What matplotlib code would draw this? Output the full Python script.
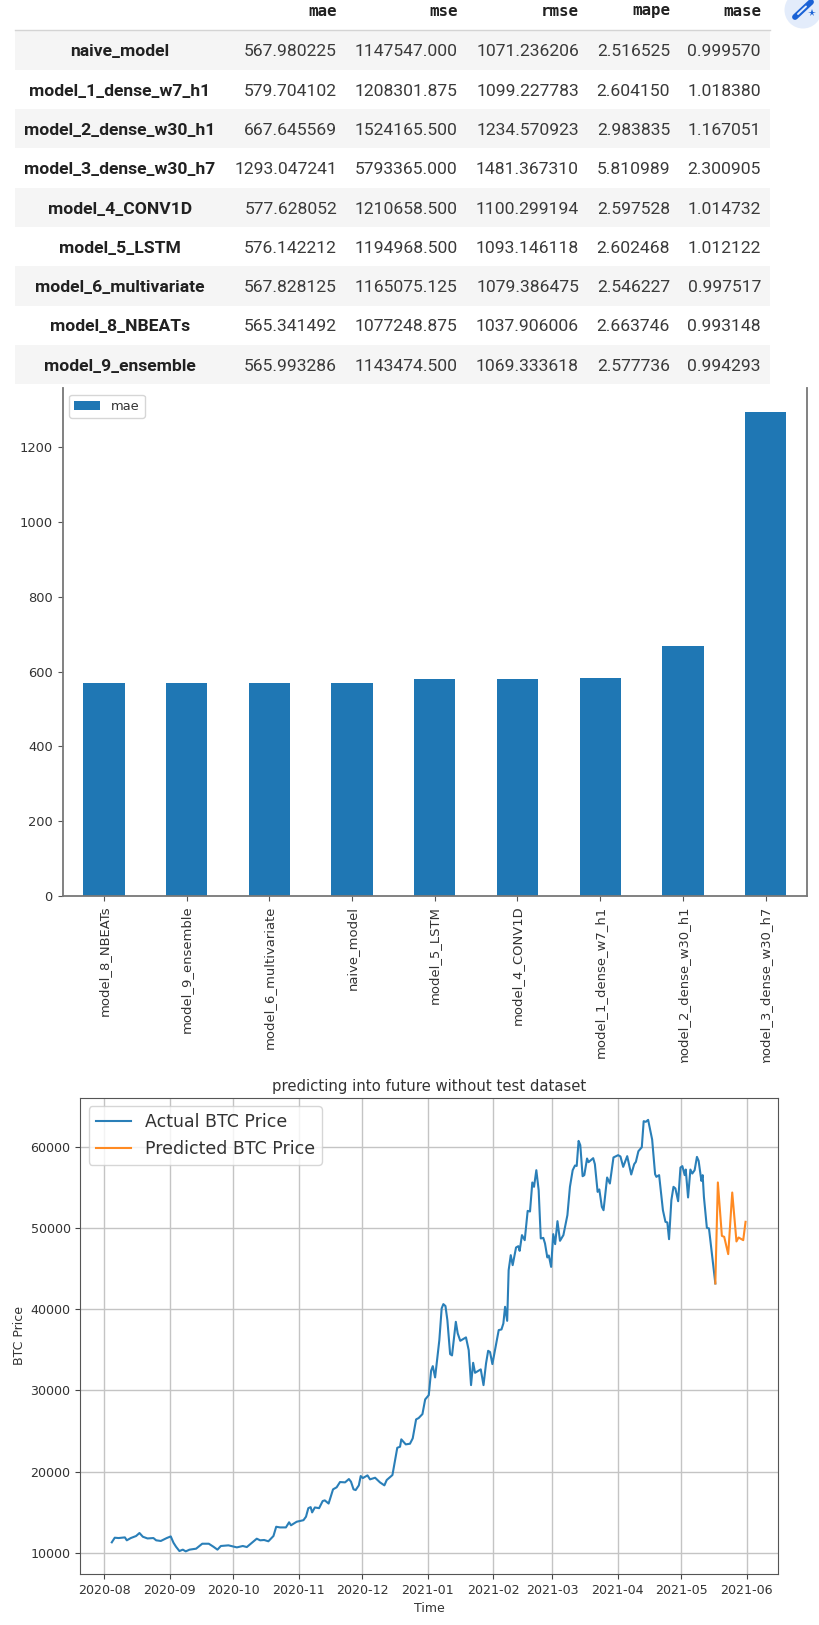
import matplotlib
matplotlib.use("Agg")
import matplotlib.pyplot as plt
import matplotlib.dates as mdates
import pandas as pd
from matplotlib.patches import Rectangle, Circle

# ---------- data ----------
table_columns = ["mae", "mse", "rmse", "mape", "mase"]
table_models = ["naive_model", "model_1_dense_w7_h1", "model_2_dense_w30_h1", "model_3_dense_w30_h7",
                "model_4_CONV1D", "model_5_LSTM", "model_6_multivariate", "model_8_NBEATs", "model_9_ensemble"]
mae_text = ["567.980225", "579.704102", "667.645569", "1293.047241", "577.628052",
            "576.142212", "567.828125", "565.341492", "565.993286"]
mse_text = ["1147547.000", "1208301.875", "1524165.500", "5793365.000", "1210658.500",
            "1194968.500", "1165075.125", "1077248.875", "1143474.500"]
rmse_text = ["1071.236206", "1099.227783", "1234.570923", "1481.367310", "1100.299194",
             "1093.146118", "1079.386475", "1037.906006", "1069.333618"]
mape_text = ["2.516525", "2.604150", "2.983835", "5.810989", "2.597528",
             "2.602468", "2.546227", "2.663746", "2.577736"]
mase_text = ["0.999570", "1.018380", "1.167051", "2.300905", "1.014732",
             "1.012122", "0.997517", "0.993148", "0.994293"]

bar_models = ["model_8_NBEATs", "model_9_ensemble", "model_6_multivariate", "naive_model", "model_5_LSTM",
              "model_4_CONV1D", "model_1_dense_w7_h1", "model_2_dense_w30_h1", "model_3_dense_w30_h7"]
bar_mae = [568.5, 568.5, 568.5, 568.5, 579, 579, 583, 667.6, 1293.0]

start_date = "2020-08-01"
actual_days = [3.6, 5, 6.8, 8.4, 9.8, 10.7, 12.6, 15.1, 16.7, 18.3, 20.5, 23.3, 24.6, 26.8, 29.6, 31.5, 32.8, 34,
               35.6, 37.2, 38.6, 40.4, 43.5, 46.4, 49.5, 51.7, 53.6, 55.2, 58.8, 62.8, 65.6, 67.5, 70.3, 72.2,
               73.8, 75.7, 77.7, 80.1, 81.4, 83.2, 86, 87.5, 88.4, 91.1, 94.3, 95.5, 96.6, 97.7, 98.4, 99.7,
               101.7, 103.4, 104.4, 106.2, 108.3, 110, 111.6, 114, 115.8, 116.8, 118, 119, 120.5, 121.4, 122.4,
               124.6, 125.8, 128.2, 130.5, 132.6, 133.7, 136.4, 138.7, 140, 140.6, 142.7, 144.7, 146, 147.6,
               148.8, 150.6, 151.9, 153.6, 154.7, 155.5, 156.6, 158.6, 159.7, 160.5, 161.5, 162.4, 163.7, 164.6,
               166.4, 167.3, 168.5, 171.2, 172.5, 173.6, 174.6, 175.5, 178.2, 179.5, 180.7, 181.7, 182.6, 183.7,
               185.1, 186.7, 188, 188.9, 189.7, 190.7, 191.4, 192.4, 193.3, 194.9, 196, 196.6, 197.7, 199, 200.4,
               201.5, 202.6, 203.4, 204.5, 205.6, 206.6, 207.8, 208.6, 209.7, 210.4, 211.5, 212.5, 213.4, 214.5,
               215.7, 217.3, 219.2, 220.4, 221.7, 222.8, 223.6, 224.5, 225.3, 226.4, 227.2, 228.5, 229.2, 231.4,
               232.2, 233.5, 234.3, 235.5, 236.3, 238, 239.3, 241, 243.2, 244.3, 245.6, 247.5, 249.4, 250.8,
               251.6, 252.8, 254.4, 255.3, 256.3, 257.4, 259.3, 260.7, 261.3, 262.6, 264.4, 265.6, 266.5, 267.3,
               268.4, 269.4, 270.3, 271.6, 272.7, 273.6, 274.7, 275.2, 276.3, 277.4, 278.3, 279.4, 280.5, 281.3,
               282.6, 283.2, 283.8, 285.2, 286.2, 289.2]
actual_price = [11293, 11860, 11820, 11860, 11900, 11540, 11820, 12070, 12440, 11980, 11770, 11820, 11540, 11460,
                11820, 12020, 11240, 10750, 10220, 10390, 10180, 10390, 10510, 11120, 11120, 10750, 10390, 10840,
                10920, 10670, 10840, 10710, 11330, 11740, 11540, 11580, 11420, 12070, 13210, 13130, 13130, 13760,
                13390, 13830, 14020, 14450, 15500, 15630, 14980, 15590, 15500, 16380, 16460, 16070, 17820, 18070,
                18720, 18680, 19090, 18760, 17820, 17730, 18310, 19460, 19210, 19540, 19050, 19250, 18680, 18310,
                18970, 19580, 22940, 23070, 23980, 23360, 23440, 24100, 26440, 26600, 27090, 28900, 29430, 32430,
                33000, 31610, 36210, 40110, 40640, 40400, 38670, 34480, 34320, 38460, 37030, 36120, 36540, 34970,
                30660, 33410, 32180, 32600, 30660, 33340, 34890, 34730, 33250, 35180, 37440, 37520, 38260, 40310,
                38580, 44830, 46670, 45440, 47620, 47780, 47200, 49140, 48520, 52130, 52050, 55630, 55090, 57140,
                54680, 48730, 48800, 48110, 46390, 46630, 45230, 49260, 48030, 50860, 48440, 49140, 51600, 55090,
                57140, 57720, 57660, 60750, 60220, 56400, 56530, 58580, 58130, 58620, 57880, 54470, 54770, 52620,
                52210, 56240, 55500, 58710, 58990, 58830, 57550, 58870, 56610, 57880, 58170, 59480, 59970, 63180,
                63100, 63340, 60920, 56650, 56320, 56530, 52210, 50780, 50700, 48640, 53450, 55090, 54890, 53320,
                57470, 57640, 56530, 57220, 53780, 57220, 56730, 57140, 58780, 58290, 55820, 56530, 53850, 50040,
                49960, 43190]
pred_days = [289.2, 290.4, 292.3, 293.4, 295.3, 297.2, 299.2, 300.2, 302.4, 303.5]
pred_price = [43190, 55630, 49050, 48930, 46800, 54390, 48360, 48850, 48520, 50780]

# ---------- layout ----------
W, H = 819, 1625
fig = plt.figure(figsize=(W / 100, H / 100), dpi=100)
fig.patch.set_facecolor("white")


def axes_px(left, top, right, bottom, **kw):
    return fig.add_axes([left / W, 1 - bottom / H, (right - left) / W, (bottom - top) / H], **kw)


# bar chart
ax1 = axes_px(62.5, 388, 807, 896, zorder=1)
ax1.bar(range(len(bar_models)), bar_mae, width=0.5, color="#1f77b4", label="mae")
ax1.set_xlim(-0.5, 8.5)
ax1.set_ylim(0, 1357.7)
ax1.set_xticks(range(len(bar_models)))
ax1.set_xticklabels(bar_models, rotation=90, fontsize=9.45, color="#333333")
ax1.set_yticks(range(0, 1201, 200))
ax1.tick_params(axis="y", labelsize=9.4, labelcolor="#333333", color="#555555")
ax1.tick_params(axis="x", color="#555555")
ax1.spines["top"].set_visible(False)
for side in ("left", "right", "bottom"):
    ax1.spines[side].set_color("#777777")
    ax1.spines[side].set_linewidth(1.3)
leg1 = ax1.legend(loc="upper left", fontsize=9.4, labelcolor="#333333")

# overlay: table, icon and cover of clipped tick labels
ov = fig.add_axes([0, 0, 1, 1], zorder=2)
ov.set_xlim(0, W)
ov.set_ylim(H, 0)
ov.axis("off")
ov.patch.set_alpha(0)
ov.add_patch(Rectangle((0, 1063), W, 562, color="white", lw=0))

row_h = 39.3
row_top = 30.5
col_right = [337, 457.7, 579, 670, 761]
col_text = [mae_text, mse_text, rmse_text, mape_text, mase_text]
for i, model in enumerate(table_models):
    y0 = row_top + i * row_h
    if i % 2 == 0:
        ov.add_patch(Rectangle((15, y0), 755, row_h, color="#f5f5f5", lw=0))
    yc = y0 + row_h / 2 + 1.7
    ov.text(120, yc, model, ha="center", va="center", family="Roboto", weight="bold",
            fontsize=12.6, color="#212121")
    for x, col in zip(col_right, col_text):
        ov.text(x, yc, col[i], ha="right", va="center", family="Roboto", fontsize=12.6, color="#3a3a3a")
ov.plot([15, 770], [30, 30], color="#d4d4d4", lw=1)
for x, name in zip(col_right, table_columns):
    ov.text(x, 11, name, ha="right", va="center", family="DejaVu Sans Mono", weight="bold",
            fontsize=11.4, color="#212121")

ov.add_patch(Circle((803, 10), 18.5, color="#e3ecfb", lw=0))
ov.plot([795, 811], [17, 2], color="#1a62d6", lw=4.2, solid_capstyle="round")
ov.plot([798, 806], [14, 6.5], color="#e3ecfb", lw=1.4, solid_capstyle="round")
ov.plot([812], [13], marker="*", color="#1a62d6", ms=5.5, mew=0)

# price chart
ax2 = axes_px(80.3, 1097.6, 778.3, 1574, zorder=3)
t0 = pd.Timestamp(start_date)
actual_dates = [t0 + pd.Timedelta(days=d) for d in actual_days]
pred_dates = [t0 + pd.Timedelta(days=d) for d in pred_days]
ax2.plot(actual_dates, actual_price, color="#2a7fb8", lw=1.5, label="Actual BTC Price")
ax2.plot(pred_dates, pred_price, color="#ff8a22", lw=1.5, label="Predicted BTC Price")
ax2.set_xlim(t0 + pd.Timedelta(days=-11.3), t0 + pd.Timedelta(days=319))
ax2.set_ylim(7390, 66084)
ax2.xaxis.set_major_locator(mdates.MonthLocator())
ax2.xaxis.set_major_formatter(mdates.DateFormatter("%Y-%m"))
ax2.set_yticks(range(10000, 60001, 10000))
ax2.tick_params(labelsize=9.1, labelcolor="#333333", color="#444444")
ax2.grid(True, color="#c4c4c4", lw=1)
ax2.set_axisbelow(True)
for s in ax2.spines.values():
    s.set_color("#555555")
ax2.set_title("predicting into future without test dataset", fontsize=10.7, color="#333333", pad=5)
ax2.set_xlabel("Time", fontsize=9, color="#333333")
ax2.set_ylabel("BTC Price", fontsize=9, color="#333333", labelpad=3)
ax2.legend(loc="upper left", fontsize=12.5, labelcolor="#333333")

fig.savefig("out.png", dpi=100)
